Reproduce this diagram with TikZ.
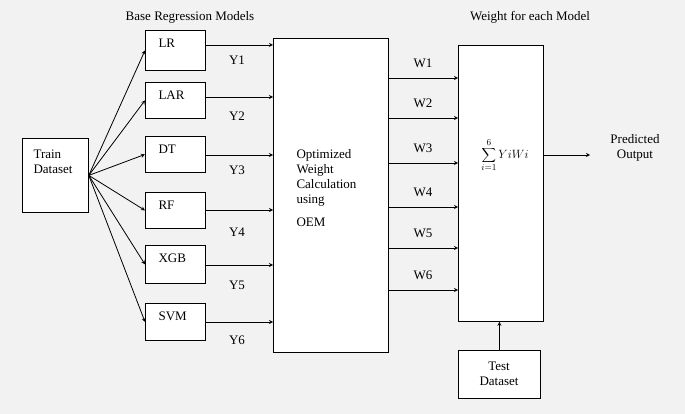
\documentclass[tikz,border=0pt]{standalone}
\usepackage{fontspec}
\setmainfont{Liberation Serif}
\begin{document}
\begin{tikzpicture}[x=1pt,y=-1pt,
  box/.style={draw,line width=0.8pt,fill=white,anchor=north west,inner sep=0},
  arr/.style={->,>=stealth,line width=0.8pt},
  lbl/.style={font=\fontsize{13}{15}\selectfont}]
\fill[gray!10] (0,0) rectangle (685,414);
\useasboundingbox (0,0) rectangle (685,414);
\node[lbl] (t1) at (190,17) {Base Regression Models};
\node[lbl] (t2) at (530,17) {Weight for each Model};
\node[box,minimum width=66pt,minimum height=74pt] (tr) at (22,138) {};
\node[lbl,align=left,anchor=north west] (trt) at (30,146) {Train\\Dataset};
\foreach \n/\t/\y/\h in {lr/LR/30/40, lar/LAR/82/36, dt/DT/136/36, rf/RF/192/36, xgb/XGB/245/38, svm/SVM/303/37}{
  \node[box,minimum width=60pt,minimum height=\h pt] (\n) at (145,\y) {};
  \node[lbl,anchor=west] (\n t) at (155,\y+13) {\t};
  \draw[arr] (tr.east) -- (\n.west);
}
\node[box,minimum width=115pt,minimum height=314pt] (big) at (273,38) {};
\node[lbl,align=left,anchor=north west] (bt) at (293,146) {Optimized\\Weight\\Calculation\\using\\[8pt]OEM};
\foreach \n/\y/\k/\ly in {lr/45/1/60, lar/97/2/116, dt/155/3/170, rf/210/4/232, xgb/265/5/285, svm/322/6/340}{
  \coordinate (s\k) at (205,\y);
  \coordinate (e\k) at (273,\y);
  \draw[arr] (s\k) -- (e\k);
  \node[lbl] (y\k) at (237,\ly) {Y\k};
}
\node[box,minimum width=85pt,minimum height=276pt] (sum) at (458,45) {};
\foreach \k/\y in {1/78,2/118,3/163,4/207,5/248,6/290}{
  \coordinate (a\k) at (388,\y);
  \coordinate (b\k) at (458,\y);
  \draw[arr] (a\k) -- (b\k);
  \node[lbl] (w\k) at (423,\y-15) {W\k};
}
\node[font=\fontsize{13}{15}\selectfont] (f) at (505,155) {$\displaystyle\sum_{i=1}^{6} YiWi$};
\coordinate (po) at (590,155);
\draw[arr] (543,155) -- (po);
\node[lbl,align=center] (pt) at (635,148) {Predicted\\Output};
\node[box,minimum width=82pt,minimum height=48pt] (test) at (458,350) {};
\node[lbl,align=center] (tt) at (499,374) {Test\\Dataset};
\draw[arr] (test.north) -- (test.north |- sum.south);
\end{tikzpicture}
\end{document}
